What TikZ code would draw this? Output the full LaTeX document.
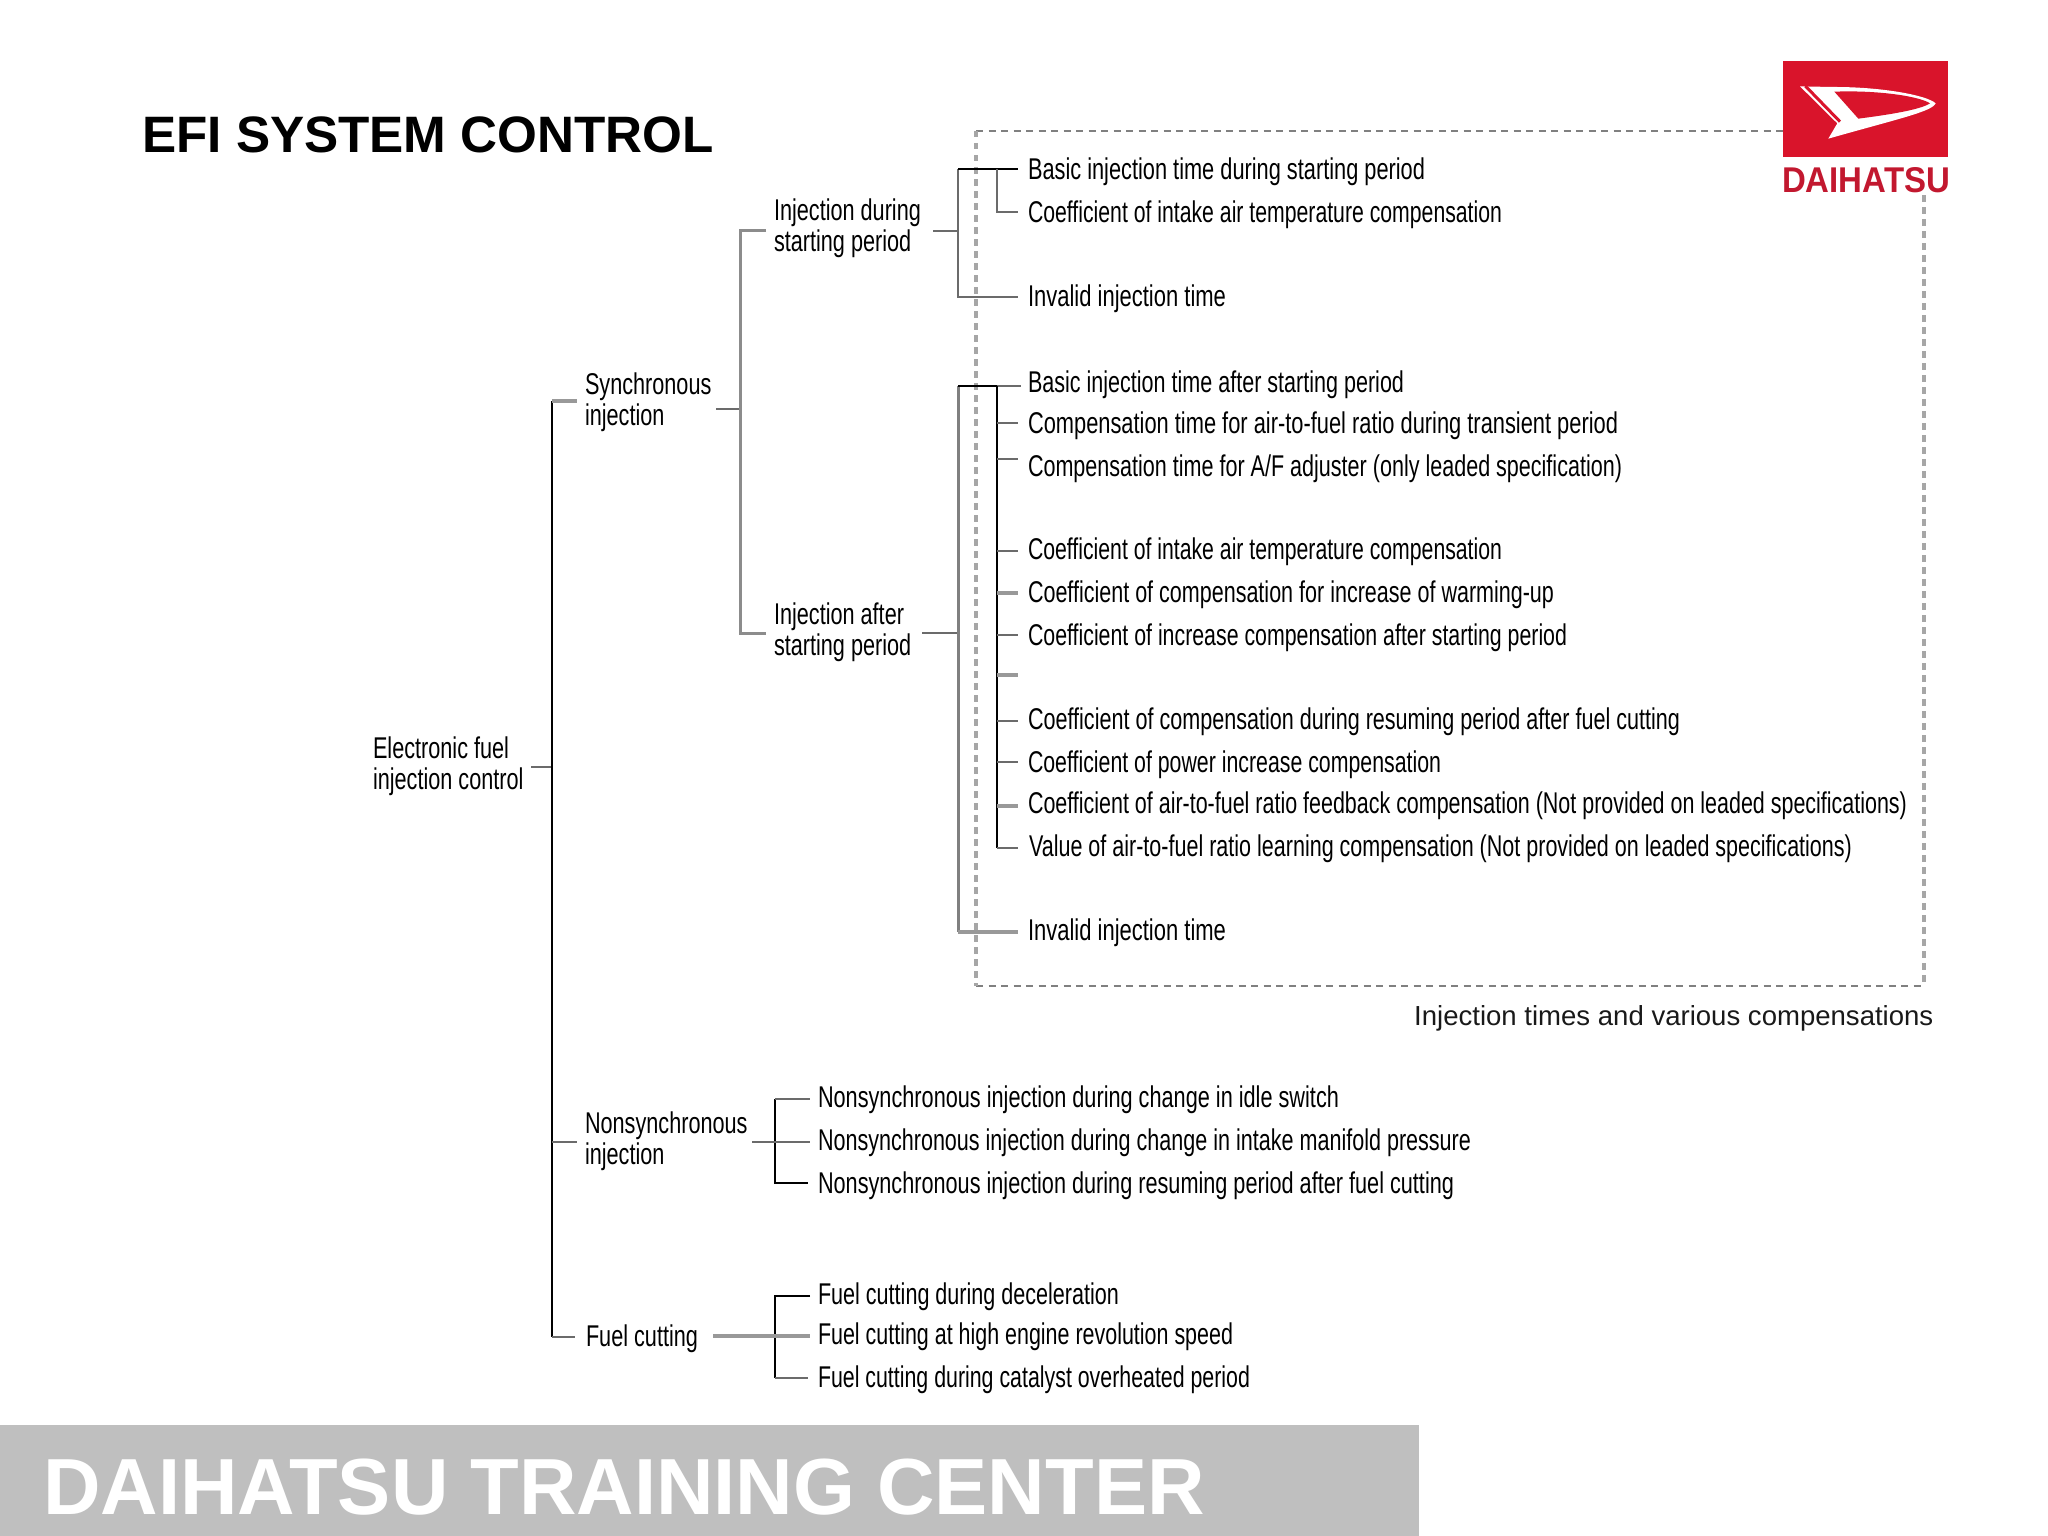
\documentclass[tikz,border=0pt]{standalone}
\usepackage{fontspec}
\setmainfont{Liberation Sans}
\newfontfamily\narfont[FakeStretch=0.722]{Liberation Sans}
\definecolor{logored}{HTML}{D9142B}
\definecolor{logotext}{HTML}{C2182F}
\newcommand{\twol}[2]{\vtop{\baselineskip=31pt\hbox{#1}\hbox{#2}}}
\newcommand{\fitw}[2]{\resizebox{#1pt}{\height}{#2}}
\tikzset{
  lab/.style={anchor=base west,inner sep=0pt,outer sep=0pt,font=\narfont\fontsize{30}{31}\selectfont,text=black},
  blk/.style={draw=black,line width=2.6pt},
  gry/.style={draw=black!58,line width=2.6pt},
  lgt/.style={draw=black!40,line width=3.2pt},
  dashh/.style={draw=black!50,line width=2.2pt,dash pattern=on 7pt off 5.5pt},
  dashv/.style={draw=black!35,line width=4pt,dash pattern=on 6.5pt off 5.5pt},
}
\begin{document}
\begin{tikzpicture}[x=1pt,y=-1pt]
\useasboundingbox (0,0) rectangle (2048,1536);
% footer
\fill[fill=black!25] (0,1425) rectangle (1419,1536);
\node[anchor=base west,inner sep=0pt,text=white,font=\bfseries\fontsize{79.6}{90}\selectfont] (footer) at (43,1514) {DAIHATSU TRAINING CENTER};
\node[anchor=base west,inner sep=0pt,text=black,font=\bfseries\fontsize{51.2}{56}\selectfont] (title) at (142,153) {EFI SYSTEM CONTROL};
% dashed box
\coordinate (bTL) at (976,131);
\coordinate (bTR) at (1783,131);
\coordinate (bRT) at (1924,195);
\coordinate (bBR) at (1924,986);
\coordinate (bBL) at (976,986);
\draw[dashh] (bTL) -- (bTR);
\draw[dashh] (bBL) -- (bBR);
\draw[dashv] (bTL) -- (bBL);
\draw[dashv] (bRT) -- (bBR);
\node[anchor=base west,inner sep=0pt,text=black!90,font=\fontsize{27.55}{30}\selectfont] (cap) at (1414,1025) {Injection times and various compensations};
% logo
\fill[logored] (1783,61) rectangle (1948,157);
\begin{scope}[shift={(1740,40)},x=0.3333pt,y=-0.3333pt]
  \fill[white] (180,139) -- (275,141) .. controls (420,140) and (560,165) .. (587,190) .. controls (575,215) and (480,235) .. (265,296) -- (292,250) -- cycle;
  \fill[logored] (283,155) .. controls (420,150) and (540,170) .. (570,190) .. controls (540,210) and (440,225) .. (355,236) -- cycle;
  \draw[logored,line width=3pt] (196,138) -- (300,245);
\end{scope}
\node[inner sep=0pt,text=logotext,font=\bfseries] (logotxt) at (1866,180.5) {\resizebox{168pt}{25pt}{DAIHATSU}};
% labels
\node[lab] (root) at (373,758) {\twol{Electronic fuel}{injection control}};
\node[lab] (sync) at (585,394) {\twol{Synchronous}{injection}};
\node[lab] (nons) at (585,1133) {\twol{Nonsynchronous}{injection}};
\node[lab] (fuel) at (586,1346) {Fuel cutting};
\node[lab] (dur) at (774,220) {\twol{Injection during}{starting period}};
\node[lab] (aft) at (774,624) {\twol{Injection after}{starting period}};
\node[lab] (a1) at (1028,179) {\fitw{397}{Basic injection time during starting period}};
\node[lab] (a2) at (1028,222) {\fitw{474}{Coefficient of intake air temperature compensation}};
\node[lab] (a3) at (1028,306) {\fitw{198}{Invalid injection time}};
\node[lab] (b1) at (1028,392) {\fitw{376}{Basic injection time after starting period}};
\node[lab] (b2) at (1028,433) {\fitw{590}{Compensation time for air-to-fuel ratio during transient period}};
\node[lab] (b3) at (1028,476) {\fitw{594}{Compensation time for A/F adjuster (only leaded specification)}};
\node[lab] (b4) at (1028,559) {\fitw{474}{Coefficient of intake air temperature compensation}};
\node[lab] (b5) at (1028,602) {\fitw{526}{Coefficient of compensation for increase of warming-up}};
\node[lab] (b6) at (1028,645) {\fitw{539}{Coefficient of increase compensation after starting period}};
\node[lab] (b7) at (1028,729) {\fitw{652}{Coefficient of compensation during resuming period after fuel cutting}};
\node[lab] (b8) at (1028,772) {\fitw{413}{Coefficient of power increase compensation}};
\node[lab] (b9) at (1028,813) {\fitw{879}{Coefficient of air-to-fuel ratio feedback compensation (Not provided on leaded specifications)}};
\node[lab] (b10) at (1029,856) {\fitw{823}{Value of air-to-fuel ratio learning compensation (Not provided on leaded specifications)}};
\node[lab] (b11) at (1028,940) {\fitw{198}{Invalid injection time}};
\node[lab] (n1) at (818,1107) {\fitw{521}{Nonsynchronous injection during change in idle switch}};
\node[lab] (n2) at (818,1150) {\fitw{653}{Nonsynchronous injection during change in intake manifold pressure}};
\node[lab] (n3) at (818,1193) {\fitw{636}{Nonsynchronous injection during resuming period after fuel cutting}};
\node[lab] (f1) at (818,1304) {\fitw{301}{Fuel cutting during deceleration}};
\node[lab] (f2) at (818,1344) {\fitw{415}{Fuel cutting at high engine revolution speed}};
\node[lab] (f3) at (818,1387) {\fitw{432}{Fuel cutting during catalyst overheated period}};
% root tree
\coordinate (rootout) at (531,767);
\coordinate (rj) at (552,767);
\coordinate (rt) at (552,401);
\coordinate (rb) at (552,1337);
\coordinate (rs) at (577,401);
\coordinate (rn0) at (552,1142);
\coordinate (rn) at (577,1142);
\coordinate (rf) at (575,1337);
\draw[gry] (rootout) -- (rj);
\draw[blk] (rt) -- (rb);
\draw[lgt] (rt) -- (rs);
\draw[gry] (rb) -- (rf);
\draw[gry] (rn0) -- (rn);
% synchronous tree
\coordinate (so) at (716,409);
\coordinate (sj) at (740,409);
\coordinate (st) at (740,230);
\coordinate (sb) at (740,633);
\coordinate (sd) at (766,230);
\coordinate (sa) at (766,633);
\draw[gry] (so) -- (sj);
\draw[draw=black!45,line width=3pt] (sd) -- (st) -- (sb) -- (sa);
% during starting
\coordinate (do) at (933,231);
\coordinate (dj) at (958,231);
\coordinate (dt) at (958,169);
\coordinate (db) at (958,297);
\coordinate (dt2) at (1018,169);
\coordinate (db2) at (1018,297);
\coordinate (di) at (997,169);
\coordinate (di2) at (997,212);
\coordinate (di3) at (1018,212);
\draw[gry] (do) -- (dj);
\draw[gry] (dt) -- (db) -- (db2);
\draw[blk] (dt) -- (dt2);
\draw[gry] (di) -- (di2) -- (di3);
% after starting
\coordinate (ao) at (922,633);
\coordinate (aj) at (958,633);
\coordinate (at) at (958,386);
\coordinate (ab) at (958,932);
\coordinate (at2) at (1021,386);
\coordinate (ab2) at (1018,932);
\coordinate (ai) at (997,386);
\coordinate (ai2) at (997,848);
\draw[gry] (ao) -- (aj);
\draw[draw=black!50,line width=3pt] (at) -- (ab);
\draw[lgt] (ab) -- (ab2);
\draw[blk] (at) -- (ai);
\draw[gry] (ai) -- (at2);
\draw[blk] (ai) -- (ai2);
\foreach \n/\y/\s in {t2/423/gry,t3/459/gry,t4/551/gry,t5/593/lgt,t6/635/gry,t7/675/lgt,t8/721/gry,t9/762/gry,t10/806/lgt,t11/848/gry}{
  \coordinate (\n) at (1018,\y);
  \draw[\s] (ai |- \n) -- (\n);
}
% nonsynchronous
\coordinate (no) at (752,1142);
\coordinate (nj) at (775,1142);
\coordinate (nt) at (775,1099);
\coordinate (nb) at (775,1183);
\coordinate (nt2) at (810,1099);
\coordinate (nm2) at (810,1142);
\coordinate (nb2) at (808,1183);
\draw[blk] (nt) -- (nb) -- (nb2);
\draw[gry] (nt) -- (nt2);
\draw[gry] (no) -- (nm2);
% fuel cutting
\coordinate (fo) at (713,1336);
\coordinate (fm2) at (810,1336);
\coordinate (ft) at (775,1296);
\coordinate (fb) at (775,1378);
\coordinate (ft2) at (810,1296);
\coordinate (fb2) at (808,1378);
\draw[blk] (ft2) -- (ft) -- (fb);
\draw[gry] (fb) -- (fb2);
\draw[draw=black!40,line width=3.4pt] (fo) -- (fm2);
\end{tikzpicture}
\end{document}
